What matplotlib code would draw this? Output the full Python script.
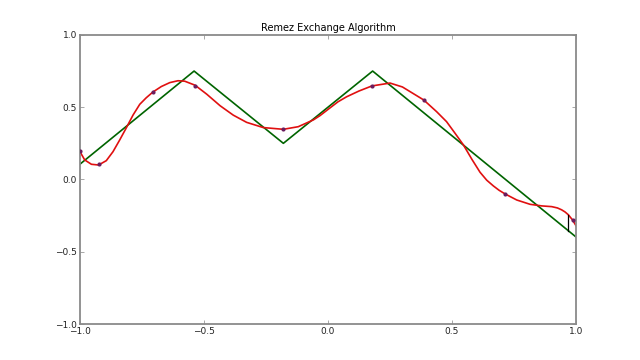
import matplotlib
matplotlib.use("Agg")
import matplotlib.pyplot as plt

# funzione obiettivo (spezzata)
target_x = [-1.0, -0.54, -0.18, 0.18, 1.0]
target_y = [0.106, 0.75, 0.25, 0.75, -0.398]

# approssimazione (curva rossa) letta punto per punto
approx_x = [-1.000, -0.981, -0.954, -0.925, -0.894, -0.867, -0.840, -0.813,
            -0.786, -0.759, -0.733, -0.706, -0.672, -0.638, -0.605, -0.578,
            -0.536, -0.489, -0.435, -0.382, -0.328, -0.261, -0.180, -0.120,
            -0.059, -0.032, 0.008, 0.040, 0.075, 0.125, 0.177, 0.250,
            0.300, 0.386, 0.438, 0.478, 0.510, 0.546, 0.580, 0.613,
            0.640, 0.667, 0.690, 0.714, 0.761, 0.815, 0.862, 0.902,
            0.925, 0.942, 0.956, 0.969, 0.986, 1.000]
approx_y = [0.192, 0.135, 0.105, 0.100, 0.130, 0.192, 0.273, 0.358,
            0.446, 0.520, 0.565, 0.605, 0.643, 0.670, 0.683, 0.680,
            0.652, 0.590, 0.510, 0.445, 0.395, 0.359, 0.347, 0.365,
            0.412, 0.442, 0.495, 0.537, 0.572, 0.612, 0.647, 0.667,
            0.640, 0.550, 0.469, 0.400, 0.325, 0.239, 0.140, 0.050,
            -0.005, -0.045, -0.075, -0.100, -0.142, -0.172, -0.183, -0.188,
            -0.197, -0.210, -0.225, -0.244, -0.280, -0.320]

# punti di riferimento (estremi)
ref_x = [-1.0, -0.925, -0.706, -0.536, -0.180, 0.177, 0.386, 0.714, 0.986]
ref_y = [0.197, 0.107, 0.603, 0.649, 0.347, 0.647, 0.550, -0.100, -0.280]

# segmento d'errore
err_x = 0.969
err_y = [-0.355, -0.244]

fig = plt.figure(figsize=(6.4, 3.6), dpi=100, facecolor="white")
ax = fig.add_axes([0.125, 0.1, 0.775, 0.803])

ax.plot(target_x, target_y, color="#006400", lw=1.2)
ax.plot(approx_x, approx_y, color="#e01010", lw=1.2)
ax.plot([err_x, err_x], err_y, color="black", lw=0.9)
ax.scatter(ref_x, ref_y, s=9, color="#6b1d5e", zorder=3, linewidths=0)

ax.set_xlim(-1, 1)
ax.set_ylim(-1, 1)
ax.set_xticks([-1.0, -0.5, 0.0, 0.5, 1.0])
ax.set_yticks([-1.0, -0.5, 0.0, 0.5, 1.0])
ax.tick_params(direction="in", length=3, width=0.6, colors="#999999",
               labelcolor="#222222", labelsize=6.5, pad=2,
               top=True, right=True)
for s in ax.spines.values():
    s.set_color("#8a8a8a")
    s.set_linewidth(1.3)

ax.set_title("Remez Exchange Algorithm", fontsize=7, pad=3)

fig.savefig("out.png", dpi=100, facecolor="white")
